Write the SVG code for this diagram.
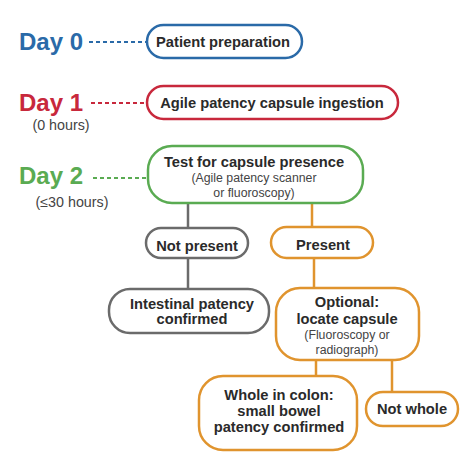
<svg xmlns="http://www.w3.org/2000/svg" width="474" height="474" viewBox="0 0 474 474">
<style>
.box{fill:#fff;stroke-width:2.5}
.b{font-family:"Liberation Sans",Arial,sans-serif;font-weight:bold;font-size:14.7px;fill:#2a2a2a;text-anchor:middle}
.s{font-family:"Liberation Sans",Arial,sans-serif;font-size:12.3px;fill:#444;text-anchor:middle}
.day{font-family:"Liberation Sans",Arial,sans-serif;font-weight:bold;font-size:24px}
.dash{stroke-width:1.8;stroke-dasharray:4 3;fill:none}
.ln{stroke-width:2.5;fill:none}
</style>
<rect width="474" height="474" fill="#fff"/>
<g id="connectors">
<line class="dash" x1="89" y1="42" x2="146" y2="42" stroke="#2a6aa8"/>
<line class="dash" x1="91" y1="103" x2="146" y2="103" stroke="#c8283c"/>
<line class="dash" x1="93" y1="178" x2="147" y2="178" stroke="#5aab52"/>
<line class="ln" x1="188" y1="203" x2="188" y2="228" stroke="#6b6b6b"/>
<line class="ln" x1="188" y1="258" x2="188" y2="289" stroke="#6b6b6b"/>
<line class="ln" x1="312" y1="203" x2="312" y2="227" stroke="#e0942e"/>
<line class="ln" x1="314" y1="258" x2="314" y2="288" stroke="#e0942e"/>
<line class="ln" x1="316" y1="360" x2="316" y2="376" stroke="#e0942e"/>
<line class="ln" x1="392" y1="360" x2="392" y2="392" stroke="#e0942e"/>
</g>
<g id="day0"><text class="day" x="19" y="50" fill="#2a6aa8">Day 0</text></g>
<g id="day1"><text class="day" x="19" y="111" fill="#c8283c">Day 1</text><text class="s" x="61" y="130" style="font-size:14.3px">(0 hours)</text></g>
<g id="day2"><text class="day" x="19" y="184" fill="#5aab52">Day 2</text><text class="s" x="72" y="207" style="font-size:14.3px">(≤30 hours)</text></g>
<g id="patient-prep">
<rect class="box" x="147" y="25" width="155" height="33" rx="16.5" stroke="#2a6aa8"/>
<text class="b" x="223" y="47">Patient preparation</text>
</g>
<g id="ingestion">
<rect class="box" x="147" y="86" width="251" height="33" rx="16.5" stroke="#c8283c"/>
<text class="b" x="272" y="108">Agile patency capsule ingestion</text>
</g>
<g id="test">
<rect class="box" x="148" y="146" width="215" height="57" rx="24" stroke="#5aab52"/>
<text class="b" x="254" y="167">Test for capsule presence</text>
<text class="s" x="254" y="182">(Agile patency scanner</text>
<text class="s" x="254" y="197">or fluoroscopy)</text>
</g>
<g id="not-present">
<rect class="box" x="146" y="228" width="102" height="30" rx="15" stroke="#6b6b6b"/>
<text class="b" x="197" y="251">Not present</text>
</g>
<g id="present">
<rect class="box" x="271" y="227" width="102" height="31" rx="15.5" stroke="#e0942e"/>
<text class="b" x="323" y="250">Present</text>
</g>
<g id="intestinal">
<rect class="box" x="109" y="289" width="160" height="44" rx="21" stroke="#6b6b6b"/>
<text class="b" x="192" y="309">Intestinal patency</text>
<text class="b" x="192" y="324">confirmed</text>
</g>
<g id="optional">
<rect class="box" x="276" y="288" width="143" height="72" rx="24" stroke="#e0942e"/>
<text class="b" x="347" y="307">Optional:</text>
<text class="b" x="347" y="324">locate capsule</text>
<text class="s" x="347" y="339">(Fluoroscopy or</text>
<text class="s" x="347" y="354">radiograph)</text>
</g>
<g id="whole">
<rect class="box" x="199" y="376" width="158" height="74" rx="24" stroke="#e0942e"/>
<text class="b" x="279" y="400">Whole in colon:</text>
<text class="b" x="279" y="416">small bowel</text>
<text class="b" x="279" y="432">patency confirmed</text>
</g>
<g id="not-whole">
<rect class="box" x="366" y="392" width="92" height="34" rx="17" stroke="#e0942e"/>
<text class="b" x="412" y="414">Not whole</text>
</g>
</svg>
